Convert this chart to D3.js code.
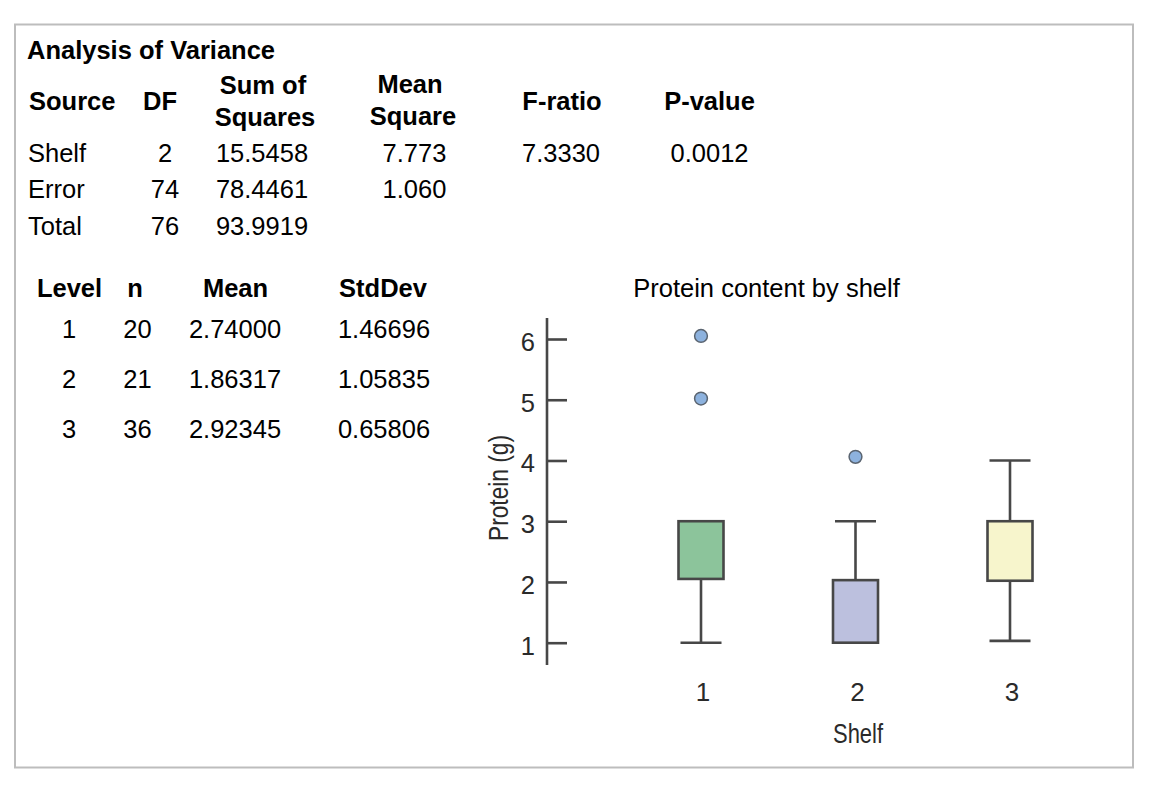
<!DOCTYPE html>
<html>
<head>
<meta charset="utf-8">
<script src="https://cdn.jsdelivr.net/npm/d3@7"></script>
<style>
  html, body { margin: 0; padding: 0; background: #fff; }
  svg { display: block; }
  text { font-family: "Liberation Sans", Arial, Helvetica, sans-serif; }
</style>
</head>
<body>
<svg id="chart" width="1158" height="790"></svg>
<script>
// ---------- DATA ----------
const anovaSources = ["Shelf", "Error", "Total"];
const anovaDF = ["2", "74", "76"];
const anovaSS = ["15.5458", "78.4461", "93.9919"];
const anovaMS = ["7.773", "1.060", ""];
const anovaF = ["7.3330", "", ""];
const anovaP = ["0.0012", "", ""];

const levelIds = ["1", "2", "3"];
const levelN = ["20", "21", "36"];
const levelMean = ["2.74000", "1.86317", "2.92345"];
const levelSD = ["1.46696", "1.05835", "0.65806"];

const shelves = ["1", "2", "3"];
const whiskerLow = [1, 1, 1.03];
const boxQ1 = [2.05, 1, 2.02];
const boxQ3 = [3, 2.03, 3];
const whiskerHigh = [3, 3, 4];
const outliers = [[5.02, 6.05], [4.06], []];
const boxColors = ["#8cc49b", "#bcc0de", "#f7f5cc"];
const yTicks = [1, 2, 3, 4, 5, 6];

// ---------- DRAW ----------
const svg = d3.select("#chart");
const FS = 25.5;

// frame
svg.append("rect").attr("x", 15).attr("y", 24.5).attr("width", 1118).attr("height", 743)
  .attr("fill", "none").attr("stroke", "#bdbdbd").attr("stroke-width", 2);

function txt(x, y, s, opts = {}) {
  return svg.append("text").attr("x", x).attr("y", y)
    .attr("font-size", opts.size || FS)
    .attr("font-weight", opts.bold ? "bold" : "normal")
    .attr("text-anchor", opts.anchor || "start")
    .attr("fill", opts.fill || "#000")
    .text(s);
}

// ANOVA table
txt(27, 59, "Analysis of Variance", { bold: true });
txt(29, 110, "Source", { bold: true });
txt(160, 110, "DF", { bold: true, anchor: "middle" });
txt(263, 94, "Sum of", { bold: true, anchor: "middle" });
txt(265, 126, "Squares", { bold: true, anchor: "middle" });
txt(410, 93, "Mean", { bold: true, anchor: "middle" });
txt(413, 125, "Square", { bold: true, anchor: "middle" });
txt(562, 110, "F-ratio", { bold: true, anchor: "middle" });
txt(709.5, 110, "P-value", { bold: true, anchor: "middle" });

const rowY = d3.scalePoint().domain(anovaSources).range([161.5, 234.8]);
anovaSources.forEach((s, i) => {
  const y = rowY(s);
  txt(28, y, s);
  txt(165, y, anovaDF[i], { anchor: "middle" });
  txt(262, y, anovaSS[i], { anchor: "middle" });
  if (anovaMS[i]) txt(414.5, y, anovaMS[i], { anchor: "middle" });
  if (anovaF[i]) txt(561, y, anovaF[i], { anchor: "middle" });
  if (anovaP[i]) txt(709.5, y, anovaP[i], { anchor: "middle" });
});

// Level table
txt(69.5, 297, "Level", { bold: true, anchor: "middle" });
txt(135, 297, "n", { bold: true, anchor: "middle" });
txt(235.5, 297, "Mean", { bold: true, anchor: "middle" });
txt(383, 297, "StdDev", { bold: true, anchor: "middle" });
const lvlY = d3.scalePoint().domain(levelIds).range([338, 438]);
levelIds.forEach((l, i) => {
  const y = lvlY(l);
  txt(69, y, l, { anchor: "middle" });
  txt(137.5, y, levelN[i], { anchor: "middle" });
  txt(235, y, levelMean[i], { anchor: "middle" });
  txt(384, y, levelSD[i], { anchor: "middle" });
});

// ---------- Box plot ----------
const y = d3.scaleLinear().domain([1, 6]).range([642.7, 339]);
const x = d3.scalePoint().domain(shelves).range([701, 1010]);
const axisX = 547;
const ink = "#474747";

txt(766.5, 297, "Protein content by shelf", { anchor: "middle" });

// y axis
const yAxis = d3.axisRight(y).tickValues(yTicks).tickSize(20).tickFormat("");
const gA = svg.append("g").attr("transform", `translate(${axisX},0)`).call(yAxis);
gA.select(".domain").remove();
gA.selectAll(".tick line").attr("stroke", ink).attr("stroke-width", 2.6);
svg.append("line").attr("x1", axisX).attr("x2", axisX).attr("y1", 318).attr("y2", 665)
  .attr("stroke", ink).attr("stroke-width", 2.6);
svg.selectAll("text.ytl").data(yTicks).enter().append("text").attr("class", "ytl")
  .attr("x", 535).attr("y", d => y(d) + 3).attr("dy", "0.35em")
  .attr("text-anchor", "end").attr("font-size", 25.5).attr("fill", "#2a2a2a")
  .text(d => d);

// y title
svg.append("text")
  .attr("transform", `translate(508,488) rotate(-90)`)
  .attr("text-anchor", "middle").attr("font-size", 27).attr("fill", "#2a2a2a")
  .attr("textLength", 106).attr("lengthAdjust", "spacingAndGlyphs")
  .text("Protein (g)");

// x labels
shelves.forEach(s => {
  txt(x(s) + 2, 701, s, { anchor: "middle", size: 26, fill: "#2a2a2a" });
});
svg.append("text").attr("x", 858).attr("y", 743)
  .attr("text-anchor", "middle").attr("font-size", 27).attr("fill", "#2a2a2a")
  .attr("textLength", 50).attr("lengthAdjust", "spacingAndGlyphs")
  .text("Shelf");

const boxW = 45, capW = 41;
shelves.forEach((s, i) => {
  const cx = x(s);
  const g = svg.append("g");
  // whiskers
  g.append("line").attr("x1", cx).attr("x2", cx).attr("y1", y(whiskerLow[i])).attr("y2", y(boxQ1[i]))
    .attr("stroke", ink).attr("stroke-width", 2.6);
  g.append("line").attr("x1", cx).attr("x2", cx).attr("y1", y(boxQ3[i])).attr("y2", y(whiskerHigh[i]))
    .attr("stroke", ink).attr("stroke-width", 2.6);
  [whiskerLow[i], whiskerHigh[i]].forEach(v => {
    if (v === boxQ1[i] || v === boxQ3[i]) return;
    g.append("line").attr("x1", cx - capW / 2).attr("x2", cx + capW / 2)
      .attr("y1", y(v)).attr("y2", y(v)).attr("stroke", ink).attr("stroke-width", 2.6);
  });
  // box
  g.append("rect").attr("x", cx - boxW / 2).attr("width", boxW)
    .attr("y", y(boxQ3[i])).attr("height", y(boxQ1[i]) - y(boxQ3[i]))
    .attr("fill", boxColors[i]).attr("stroke", ink).attr("stroke-width", 2.6);
  // outliers
  g.selectAll("circle").data(outliers[i]).enter().append("circle")
    .attr("cx", cx).attr("cy", d => y(d)).attr("r", 6.4)
    .attr("fill", "#8db2de").attr("stroke", "#5a6470").attr("stroke-width", 1.5);
});
</script>
</body>
</html>
